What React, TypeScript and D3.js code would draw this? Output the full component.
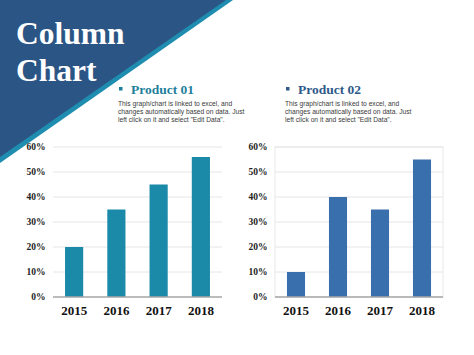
import React from "react";
import * as d3 from "d3";

const years = ["2015", "2016", "2017", "2018"];
const product1 = [20, 35, 45, 56];
const product2 = [10, 40, 35, 55];
const ticks = [0, 10, 20, 30, 40, 50, 60];
const descLines = [
  "This graph/chart is linked to excel, and",
  "changes automatically based on data. Just",
  'left click on it and select "Edit Data".',
];

const W = 474;
const H = 355;
const SERIF = "'Liberation Serif', 'Times New Roman', serif";
const SANS = "'Liberation Sans', Arial, sans-serif";

function Panel({
  x0, x1, values, color, border,
}: { x0: number; x1: number; values: number[]; color: string; border: boolean }) {
  const yTop = 147;
  const yBot = 297;
  const x = d3.scaleBand<string>().domain(years).range([x0, x1]).paddingInner(0.57).paddingOuter(0.285);
  const y = d3.scaleLinear().domain([0, 60]).range([yBot, yTop]);
  return (
    <g>
      {border && (
        <rect x={x0} y={yTop} width={x1 - x0} height={yBot - yTop} fill="none" stroke="#e8e8e8" strokeWidth={1} />
      )}
      {ticks.map((t) => (
        <g key={t}>
          {t > 0 && <line x1={x0} x2={x1} y1={y(t)} y2={y(t)} stroke="#e6e6e6" strokeWidth={1} />}
          <text x={x0 - 7.5} y={y(t) + 3.2} textAnchor="end" fontFamily={SERIF} fontWeight="bold" fontSize={9.5} fill="#222">
            {t}%
          </text>
        </g>
      ))}
      {values.map((v, i) => (
        <rect key={years[i]} x={x(years[i])} y={y(v)} width={x.bandwidth()} height={yBot - y(v)} fill={color} />
      ))}
      <line x1={x0} x2={x1} y1={yBot} y2={yBot} stroke="#a6a6a6" strokeWidth={1.5} />
      {years.map((yr) => (
        <text key={yr} x={(x(yr) as number) + x.bandwidth() / 2} y={315} textAnchor="middle" fontFamily={SERIF} fontWeight="bold" fontSize={13} fill="#111">
          {yr}
        </text>
      ))}
    </g>
  );
}

function Header({ bx, tx, dx, title, color }: { bx: number; tx: number; dx: number; title: string; color: string }) {
  return (
    <g>
      <rect x={bx} y={87} width={3.5} height={3.5} fill={color} />
      <text x={tx} y={94} fontFamily={SERIF} fontWeight="bold" fontSize={13.5} fill={color}>{title}</text>
      {descLines.map((l, i) => (
        <text key={i} x={dx} y={106 + i * 8} fontFamily={SANS} fontSize={6.7} fill="#3a3a3a">{l}</text>
      ))}
    </g>
  );
}

export default function App() {
  return (
    <svg width={W} height={H} style={{ position: "absolute", left: 0, top: 0, background: "#fff" }}>
      <rect x={0} y={0} width={W} height={H} fill="#fff" />
      <polygon points="0,0 233,0 0,163" fill="#1f8db0" />
      <polygon points="0,0 226,0 0,157" fill="#2b5585" />
      <text x={16} y={44} fontFamily={SERIF} fontWeight="bold" fontSize={31.5} fill="#fff">Column</text>
      <text x={16} y={81} fontFamily={SERIF} fontWeight="bold" fontSize={31.5} fill="#fff">Chart</text>
      <Header bx={119} tx={131} dx={118} title="Product 01" color="#1f7f9c" />
      <Header bx={286} tx={298} dx={285} title="Product 02" color="#2f5a8a" />
      <Panel x0={53} x1={222} values={product1} color="#1b8aa8" border={false} />
      <Panel x0={275} x1={443} values={product2} color="#3a6fad" border={true} />
    </svg>
  );
}
